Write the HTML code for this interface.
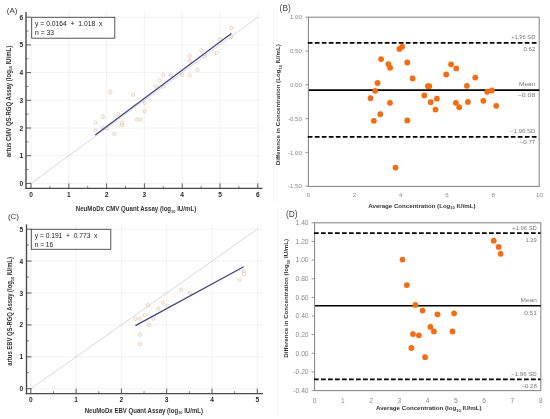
<!DOCTYPE html><html><head><meta charset="utf-8"><title>Figure</title>
<style>html,body{margin:0;padding:0;background:#fff;}svg{display:block;}</style></head><body>
<svg width="550" height="419" viewBox="0 0 550 419">
<rect x="0" y="0" width="550" height="419" fill="#fff"/>
<line x1="273.50" y1="8.00" x2="273.50" y2="204.00" stroke="#f3f3f3" stroke-width="0.8"/>
<line x1="277.50" y1="209.00" x2="277.50" y2="416.00" stroke="#f5f5f5" stroke-width="0.8"/>
<line x1="31.00" y1="12.00" x2="31.00" y2="188.40" stroke="#ededed" stroke-width="0.8"/>
<line x1="26.00" y1="183.40" x2="262.50" y2="183.40" stroke="#ededed" stroke-width="0.8"/>
<line x1="68.80" y1="12.00" x2="68.80" y2="188.40" stroke="#ededed" stroke-width="0.8"/>
<line x1="26.00" y1="155.70" x2="262.50" y2="155.70" stroke="#ededed" stroke-width="0.8"/>
<line x1="106.60" y1="12.00" x2="106.60" y2="188.40" stroke="#ededed" stroke-width="0.8"/>
<line x1="26.00" y1="128.00" x2="262.50" y2="128.00" stroke="#ededed" stroke-width="0.8"/>
<line x1="144.40" y1="12.00" x2="144.40" y2="188.40" stroke="#ededed" stroke-width="0.8"/>
<line x1="26.00" y1="100.30" x2="262.50" y2="100.30" stroke="#ededed" stroke-width="0.8"/>
<line x1="182.20" y1="12.00" x2="182.20" y2="188.40" stroke="#ededed" stroke-width="0.8"/>
<line x1="26.00" y1="72.60" x2="262.50" y2="72.60" stroke="#ededed" stroke-width="0.8"/>
<line x1="220.00" y1="12.00" x2="220.00" y2="188.40" stroke="#ededed" stroke-width="0.8"/>
<line x1="26.00" y1="44.90" x2="262.50" y2="44.90" stroke="#ededed" stroke-width="0.8"/>
<line x1="257.80" y1="12.00" x2="257.80" y2="188.40" stroke="#ededed" stroke-width="0.8"/>
<line x1="26.00" y1="17.20" x2="262.50" y2="17.20" stroke="#ededed" stroke-width="0.8"/>
<line x1="31.00" y1="183.40" x2="257.80" y2="17.20" stroke="#cdcdcd" stroke-width="0.8"/>
<circle cx="110.4" cy="92.0" r="1.6" fill="none" stroke="#e5c4a2" stroke-width="0.8"/>
<circle cx="133.1" cy="94.7" r="1.6" fill="none" stroke="#e5c4a2" stroke-width="0.8"/>
<circle cx="144.6" cy="103.0" r="1.6" fill="none" stroke="#e5c4a2" stroke-width="0.8"/>
<circle cx="144.6" cy="111.2" r="1.6" fill="none" stroke="#e5c4a2" stroke-width="0.8"/>
<circle cx="103.0" cy="116.7" r="1.6" fill="none" stroke="#e5c4a2" stroke-width="0.8"/>
<circle cx="118.1" cy="114.2" r="1.6" fill="none" stroke="#e5c4a2" stroke-width="0.8"/>
<circle cx="95.4" cy="122.6" r="1.6" fill="none" stroke="#e5c4a2" stroke-width="0.8"/>
<circle cx="122.1" cy="122.6" r="1.6" fill="none" stroke="#e5c4a2" stroke-width="0.8"/>
<circle cx="122.1" cy="125.1" r="1.6" fill="none" stroke="#e5c4a2" stroke-width="0.8"/>
<circle cx="136.8" cy="119.7" r="1.6" fill="none" stroke="#e5c4a2" stroke-width="0.8"/>
<circle cx="140.6" cy="119.7" r="1.6" fill="none" stroke="#e5c4a2" stroke-width="0.8"/>
<circle cx="95.4" cy="130.4" r="1.6" fill="none" stroke="#e5c4a2" stroke-width="0.8"/>
<circle cx="102.5" cy="127.6" r="1.6" fill="none" stroke="#e5c4a2" stroke-width="0.8"/>
<circle cx="107.0" cy="128.4" r="1.6" fill="none" stroke="#e5c4a2" stroke-width="0.8"/>
<circle cx="114.2" cy="133.8" r="1.6" fill="none" stroke="#e5c4a2" stroke-width="0.8"/>
<circle cx="231.3" cy="28.0" r="1.6" fill="none" stroke="#e5c4a2" stroke-width="0.8"/>
<circle cx="231.3" cy="36.7" r="1.6" fill="none" stroke="#e5c4a2" stroke-width="0.8"/>
<circle cx="219.8" cy="39.2" r="1.6" fill="none" stroke="#e5c4a2" stroke-width="0.8"/>
<circle cx="216.5" cy="53.1" r="1.6" fill="none" stroke="#e5c4a2" stroke-width="0.8"/>
<circle cx="201.3" cy="50.4" r="1.6" fill="none" stroke="#e5c4a2" stroke-width="0.8"/>
<circle cx="205.1" cy="56.4" r="1.6" fill="none" stroke="#e5c4a2" stroke-width="0.8"/>
<circle cx="189.7" cy="55.9" r="1.6" fill="none" stroke="#e5c4a2" stroke-width="0.8"/>
<circle cx="189.7" cy="60.9" r="1.6" fill="none" stroke="#e5c4a2" stroke-width="0.8"/>
<circle cx="197.6" cy="69.8" r="1.6" fill="none" stroke="#e5c4a2" stroke-width="0.8"/>
<circle cx="189.7" cy="75.4" r="1.6" fill="none" stroke="#e5c4a2" stroke-width="0.8"/>
<circle cx="182.1" cy="75.1" r="1.6" fill="none" stroke="#e5c4a2" stroke-width="0.8"/>
<circle cx="170.9" cy="75.1" r="1.6" fill="none" stroke="#e5c4a2" stroke-width="0.8"/>
<circle cx="163.4" cy="75.1" r="1.6" fill="none" stroke="#e5c4a2" stroke-width="0.8"/>
<circle cx="159.5" cy="80.4" r="1.6" fill="none" stroke="#e5c4a2" stroke-width="0.8"/>
<circle cx="155.8" cy="86.5" r="1.6" fill="none" stroke="#e5c4a2" stroke-width="0.8"/>
<circle cx="163.4" cy="86.8" r="1.6" fill="none" stroke="#e5c4a2" stroke-width="0.8"/>
<line x1="95.26" y1="135.01" x2="231.34" y2="33.49" stroke="#413f90" stroke-width="1.25"/>
<line x1="26.00" y1="12.00" x2="26.00" y2="189.10" stroke="#4a4a4a" stroke-width="1.4"/>
<line x1="25.30" y1="188.40" x2="262.50" y2="188.40" stroke="#4a4a4a" stroke-width="1.4"/>
<line x1="26.00" y1="183.40" x2="31.00" y2="183.40" stroke="#4a4a4a" stroke-width="0.9"/>
<line x1="31.00" y1="188.40" x2="31.00" y2="183.40" stroke="#4a4a4a" stroke-width="0.9"/>
<line x1="26.00" y1="169.55" x2="28.50" y2="169.55" stroke="#4a4a4a" stroke-width="0.7"/>
<line x1="49.90" y1="188.40" x2="49.90" y2="185.90" stroke="#4a4a4a" stroke-width="0.7"/>
<text x="21.40" y="185.90" font-size="6.6" fill="#2a2a2a" text-anchor="middle" font-weight="bold" font-family="'Liberation Sans', Arial, sans-serif">0</text>
<text x="31.00" y="196.90" font-size="6.6" fill="#2a2a2a" text-anchor="middle" font-weight="bold" font-family="'Liberation Sans', Arial, sans-serif">0</text>
<line x1="26.00" y1="155.70" x2="31.00" y2="155.70" stroke="#4a4a4a" stroke-width="0.9"/>
<line x1="68.80" y1="188.40" x2="68.80" y2="183.40" stroke="#4a4a4a" stroke-width="0.9"/>
<line x1="26.00" y1="141.85" x2="28.50" y2="141.85" stroke="#4a4a4a" stroke-width="0.7"/>
<line x1="87.70" y1="188.40" x2="87.70" y2="185.90" stroke="#4a4a4a" stroke-width="0.7"/>
<text x="21.40" y="158.20" font-size="6.6" fill="#2a2a2a" text-anchor="middle" font-weight="bold" font-family="'Liberation Sans', Arial, sans-serif">1</text>
<text x="68.80" y="196.90" font-size="6.6" fill="#2a2a2a" text-anchor="middle" font-weight="bold" font-family="'Liberation Sans', Arial, sans-serif">1</text>
<line x1="26.00" y1="128.00" x2="31.00" y2="128.00" stroke="#4a4a4a" stroke-width="0.9"/>
<line x1="106.60" y1="188.40" x2="106.60" y2="183.40" stroke="#4a4a4a" stroke-width="0.9"/>
<line x1="26.00" y1="114.15" x2="28.50" y2="114.15" stroke="#4a4a4a" stroke-width="0.7"/>
<line x1="125.50" y1="188.40" x2="125.50" y2="185.90" stroke="#4a4a4a" stroke-width="0.7"/>
<text x="21.40" y="130.50" font-size="6.6" fill="#2a2a2a" text-anchor="middle" font-weight="bold" font-family="'Liberation Sans', Arial, sans-serif">2</text>
<text x="106.60" y="196.90" font-size="6.6" fill="#2a2a2a" text-anchor="middle" font-weight="bold" font-family="'Liberation Sans', Arial, sans-serif">2</text>
<line x1="26.00" y1="100.30" x2="31.00" y2="100.30" stroke="#4a4a4a" stroke-width="0.9"/>
<line x1="144.40" y1="188.40" x2="144.40" y2="183.40" stroke="#4a4a4a" stroke-width="0.9"/>
<line x1="26.00" y1="86.45" x2="28.50" y2="86.45" stroke="#4a4a4a" stroke-width="0.7"/>
<line x1="163.30" y1="188.40" x2="163.30" y2="185.90" stroke="#4a4a4a" stroke-width="0.7"/>
<text x="21.40" y="102.80" font-size="6.6" fill="#2a2a2a" text-anchor="middle" font-weight="bold" font-family="'Liberation Sans', Arial, sans-serif">3</text>
<text x="144.40" y="196.90" font-size="6.6" fill="#2a2a2a" text-anchor="middle" font-weight="bold" font-family="'Liberation Sans', Arial, sans-serif">3</text>
<line x1="26.00" y1="72.60" x2="31.00" y2="72.60" stroke="#4a4a4a" stroke-width="0.9"/>
<line x1="182.20" y1="188.40" x2="182.20" y2="183.40" stroke="#4a4a4a" stroke-width="0.9"/>
<line x1="26.00" y1="58.75" x2="28.50" y2="58.75" stroke="#4a4a4a" stroke-width="0.7"/>
<line x1="201.10" y1="188.40" x2="201.10" y2="185.90" stroke="#4a4a4a" stroke-width="0.7"/>
<text x="21.40" y="75.10" font-size="6.6" fill="#2a2a2a" text-anchor="middle" font-weight="bold" font-family="'Liberation Sans', Arial, sans-serif">4</text>
<text x="182.20" y="196.90" font-size="6.6" fill="#2a2a2a" text-anchor="middle" font-weight="bold" font-family="'Liberation Sans', Arial, sans-serif">4</text>
<line x1="26.00" y1="44.90" x2="31.00" y2="44.90" stroke="#4a4a4a" stroke-width="0.9"/>
<line x1="220.00" y1="188.40" x2="220.00" y2="183.40" stroke="#4a4a4a" stroke-width="0.9"/>
<line x1="26.00" y1="31.05" x2="28.50" y2="31.05" stroke="#4a4a4a" stroke-width="0.7"/>
<line x1="238.90" y1="188.40" x2="238.90" y2="185.90" stroke="#4a4a4a" stroke-width="0.7"/>
<text x="21.40" y="47.40" font-size="6.6" fill="#2a2a2a" text-anchor="middle" font-weight="bold" font-family="'Liberation Sans', Arial, sans-serif">5</text>
<text x="220.00" y="196.90" font-size="6.6" fill="#2a2a2a" text-anchor="middle" font-weight="bold" font-family="'Liberation Sans', Arial, sans-serif">5</text>
<line x1="26.00" y1="17.20" x2="31.00" y2="17.20" stroke="#4a4a4a" stroke-width="0.9"/>
<line x1="257.80" y1="188.40" x2="257.80" y2="183.40" stroke="#4a4a4a" stroke-width="0.9"/>
<text x="21.40" y="19.70" font-size="6.6" fill="#2a2a2a" text-anchor="middle" font-weight="bold" font-family="'Liberation Sans', Arial, sans-serif">6</text>
<text x="257.80" y="196.90" font-size="6.6" fill="#2a2a2a" text-anchor="middle" font-weight="bold" font-family="'Liberation Sans', Arial, sans-serif">6</text>
<rect x="31.7" y="17.3" width="83.1" height="20.9" fill="#fff" stroke="#444" stroke-width="0.9"/>
<text x="35.10" y="25.90" font-size="6.4" fill="#222" text-anchor="start" font-weight="normal" font-family="'Liberation Sans', Arial, sans-serif" textLength="67.3" lengthAdjust="spacingAndGlyphs">y = 0.0164&#160;&#160;+&#160;&#160;1.018&#160;&#160;x</text>
<text x="35.10" y="34.50" font-size="6.4" fill="#222" text-anchor="start" font-weight="normal" font-family="'Liberation Sans', Arial, sans-serif" textLength="19.0" lengthAdjust="spacingAndGlyphs">n = 33</text>
<text x="6.80" y="13.10" font-size="8" fill="#333" text-anchor="start" font-weight="normal" font-family="'Liberation Sans', Arial, sans-serif">(A)</text>
<text x="10.90" y="101.50" font-size="6.6" fill="#333" text-anchor="middle" font-weight="bold" font-family="'Liberation Sans', Arial, sans-serif" textLength="111.5" lengthAdjust="spacingAndGlyphs" transform="rotate(-90 10.90 101.50)">artus CMV QS-RGQ Assay (log<tspan font-size="4.2" dy="1.6">10</tspan><tspan dy="-1.6"> </tspan>IU/mL)</text>
<text x="136.00" y="211.30" font-size="6.6" fill="#333" text-anchor="middle" font-weight="bold" font-family="'Liberation Sans', Arial, sans-serif" textLength="120.4" lengthAdjust="spacingAndGlyphs">NeuMoDx CMV Quant Assay (log<tspan font-size="4.2" dy="1.6">10</tspan><tspan dy="-1.6"> </tspan>IU/mL)</text>
<line x1="30.80" y1="224.40" x2="30.80" y2="393.60" stroke="#ededed" stroke-width="0.8"/>
<line x1="26.50" y1="388.70" x2="263.00" y2="388.70" stroke="#ededed" stroke-width="0.8"/>
<line x1="76.10" y1="224.40" x2="76.10" y2="393.60" stroke="#ededed" stroke-width="0.8"/>
<line x1="26.50" y1="356.80" x2="263.00" y2="356.80" stroke="#ededed" stroke-width="0.8"/>
<line x1="121.40" y1="224.40" x2="121.40" y2="393.60" stroke="#ededed" stroke-width="0.8"/>
<line x1="26.50" y1="324.90" x2="263.00" y2="324.90" stroke="#ededed" stroke-width="0.8"/>
<line x1="166.70" y1="224.40" x2="166.70" y2="393.60" stroke="#ededed" stroke-width="0.8"/>
<line x1="26.50" y1="293.00" x2="263.00" y2="293.00" stroke="#ededed" stroke-width="0.8"/>
<line x1="212.00" y1="224.40" x2="212.00" y2="393.60" stroke="#ededed" stroke-width="0.8"/>
<line x1="26.50" y1="261.10" x2="263.00" y2="261.10" stroke="#ededed" stroke-width="0.8"/>
<line x1="257.30" y1="224.40" x2="257.30" y2="393.60" stroke="#ededed" stroke-width="0.8"/>
<line x1="26.50" y1="229.20" x2="263.00" y2="229.20" stroke="#ededed" stroke-width="0.8"/>
<line x1="30.80" y1="388.70" x2="257.30" y2="229.20" stroke="#cdcdcd" stroke-width="0.8"/>
<circle cx="181.0" cy="289.7" r="1.6" fill="none" stroke="#e5c4a2" stroke-width="0.8"/>
<circle cx="189.8" cy="293.0" r="1.6" fill="none" stroke="#e5c4a2" stroke-width="0.8"/>
<circle cx="148.1" cy="305.1" r="1.6" fill="none" stroke="#e5c4a2" stroke-width="0.8"/>
<circle cx="162.9" cy="302.5" r="1.6" fill="none" stroke="#e5c4a2" stroke-width="0.8"/>
<circle cx="167.3" cy="305.6" r="1.6" fill="none" stroke="#e5c4a2" stroke-width="0.8"/>
<circle cx="158.1" cy="308.7" r="1.6" fill="none" stroke="#e5c4a2" stroke-width="0.8"/>
<circle cx="144.6" cy="315.1" r="1.6" fill="none" stroke="#e5c4a2" stroke-width="0.8"/>
<circle cx="140.0" cy="318.7" r="1.6" fill="none" stroke="#e5c4a2" stroke-width="0.8"/>
<circle cx="135.5" cy="318.7" r="1.6" fill="none" stroke="#e5c4a2" stroke-width="0.8"/>
<circle cx="153.4" cy="318.7" r="1.6" fill="none" stroke="#e5c4a2" stroke-width="0.8"/>
<circle cx="148.9" cy="324.8" r="1.6" fill="none" stroke="#e5c4a2" stroke-width="0.8"/>
<circle cx="140.0" cy="334.6" r="1.6" fill="none" stroke="#e5c4a2" stroke-width="0.8"/>
<circle cx="140.0" cy="344.0" r="1.6" fill="none" stroke="#e5c4a2" stroke-width="0.8"/>
<circle cx="243.9" cy="270.8" r="1.6" fill="none" stroke="#e5c4a2" stroke-width="0.8"/>
<circle cx="243.9" cy="274.0" r="1.6" fill="none" stroke="#e5c4a2" stroke-width="0.8"/>
<circle cx="239.6" cy="280.0" r="1.6" fill="none" stroke="#e5c4a2" stroke-width="0.8"/>
<line x1="135.44" y1="325.65" x2="243.71" y2="266.71" stroke="#413f90" stroke-width="1.25"/>
<line x1="26.50" y1="224.40" x2="26.50" y2="394.30" stroke="#4a4a4a" stroke-width="1.4"/>
<line x1="25.80" y1="393.60" x2="263.00" y2="393.60" stroke="#4a4a4a" stroke-width="1.4"/>
<line x1="26.50" y1="388.70" x2="31.50" y2="388.70" stroke="#4a4a4a" stroke-width="0.9"/>
<line x1="30.80" y1="393.60" x2="30.80" y2="388.60" stroke="#4a4a4a" stroke-width="0.9"/>
<line x1="26.50" y1="372.75" x2="29.00" y2="372.75" stroke="#4a4a4a" stroke-width="0.7"/>
<line x1="53.45" y1="393.60" x2="53.45" y2="391.10" stroke="#4a4a4a" stroke-width="0.7"/>
<text x="21.40" y="391.20" font-size="6.6" fill="#2a2a2a" text-anchor="middle" font-weight="bold" font-family="'Liberation Sans', Arial, sans-serif">0</text>
<text x="30.80" y="402.20" font-size="6.6" fill="#2a2a2a" text-anchor="middle" font-weight="bold" font-family="'Liberation Sans', Arial, sans-serif">0</text>
<line x1="26.50" y1="356.80" x2="31.50" y2="356.80" stroke="#4a4a4a" stroke-width="0.9"/>
<line x1="76.10" y1="393.60" x2="76.10" y2="388.60" stroke="#4a4a4a" stroke-width="0.9"/>
<line x1="26.50" y1="340.85" x2="29.00" y2="340.85" stroke="#4a4a4a" stroke-width="0.7"/>
<line x1="98.75" y1="393.60" x2="98.75" y2="391.10" stroke="#4a4a4a" stroke-width="0.7"/>
<text x="21.40" y="359.30" font-size="6.6" fill="#2a2a2a" text-anchor="middle" font-weight="bold" font-family="'Liberation Sans', Arial, sans-serif">1</text>
<text x="76.10" y="402.20" font-size="6.6" fill="#2a2a2a" text-anchor="middle" font-weight="bold" font-family="'Liberation Sans', Arial, sans-serif">1</text>
<line x1="26.50" y1="324.90" x2="31.50" y2="324.90" stroke="#4a4a4a" stroke-width="0.9"/>
<line x1="121.40" y1="393.60" x2="121.40" y2="388.60" stroke="#4a4a4a" stroke-width="0.9"/>
<line x1="26.50" y1="308.95" x2="29.00" y2="308.95" stroke="#4a4a4a" stroke-width="0.7"/>
<line x1="144.05" y1="393.60" x2="144.05" y2="391.10" stroke="#4a4a4a" stroke-width="0.7"/>
<text x="21.40" y="327.40" font-size="6.6" fill="#2a2a2a" text-anchor="middle" font-weight="bold" font-family="'Liberation Sans', Arial, sans-serif">2</text>
<text x="121.40" y="402.20" font-size="6.6" fill="#2a2a2a" text-anchor="middle" font-weight="bold" font-family="'Liberation Sans', Arial, sans-serif">2</text>
<line x1="26.50" y1="293.00" x2="31.50" y2="293.00" stroke="#4a4a4a" stroke-width="0.9"/>
<line x1="166.70" y1="393.60" x2="166.70" y2="388.60" stroke="#4a4a4a" stroke-width="0.9"/>
<line x1="26.50" y1="277.05" x2="29.00" y2="277.05" stroke="#4a4a4a" stroke-width="0.7"/>
<line x1="189.35" y1="393.60" x2="189.35" y2="391.10" stroke="#4a4a4a" stroke-width="0.7"/>
<text x="21.40" y="295.50" font-size="6.6" fill="#2a2a2a" text-anchor="middle" font-weight="bold" font-family="'Liberation Sans', Arial, sans-serif">3</text>
<text x="166.70" y="402.20" font-size="6.6" fill="#2a2a2a" text-anchor="middle" font-weight="bold" font-family="'Liberation Sans', Arial, sans-serif">3</text>
<line x1="26.50" y1="261.10" x2="31.50" y2="261.10" stroke="#4a4a4a" stroke-width="0.9"/>
<line x1="212.00" y1="393.60" x2="212.00" y2="388.60" stroke="#4a4a4a" stroke-width="0.9"/>
<line x1="26.50" y1="245.15" x2="29.00" y2="245.15" stroke="#4a4a4a" stroke-width="0.7"/>
<line x1="234.65" y1="393.60" x2="234.65" y2="391.10" stroke="#4a4a4a" stroke-width="0.7"/>
<text x="21.40" y="263.60" font-size="6.6" fill="#2a2a2a" text-anchor="middle" font-weight="bold" font-family="'Liberation Sans', Arial, sans-serif">4</text>
<text x="212.00" y="402.20" font-size="6.6" fill="#2a2a2a" text-anchor="middle" font-weight="bold" font-family="'Liberation Sans', Arial, sans-serif">4</text>
<line x1="26.50" y1="229.20" x2="31.50" y2="229.20" stroke="#4a4a4a" stroke-width="0.9"/>
<line x1="257.30" y1="393.60" x2="257.30" y2="388.60" stroke="#4a4a4a" stroke-width="0.9"/>
<text x="21.40" y="231.70" font-size="6.6" fill="#2a2a2a" text-anchor="middle" font-weight="bold" font-family="'Liberation Sans', Arial, sans-serif">5</text>
<text x="257.30" y="402.20" font-size="6.6" fill="#2a2a2a" text-anchor="middle" font-weight="bold" font-family="'Liberation Sans', Arial, sans-serif">5</text>
<rect x="31.3" y="229.3" width="79.5" height="20.0" fill="#fff" stroke="#444" stroke-width="0.9"/>
<text x="34.70" y="237.90" font-size="6.4" fill="#222" text-anchor="start" font-weight="normal" font-family="'Liberation Sans', Arial, sans-serif" textLength="62.7" lengthAdjust="spacingAndGlyphs">y = 0.191&#160;&#160;+&#160;&#160;0.773&#160;&#160;x</text>
<text x="34.70" y="246.50" font-size="6.4" fill="#222" text-anchor="start" font-weight="normal" font-family="'Liberation Sans', Arial, sans-serif" textLength="18.5" lengthAdjust="spacingAndGlyphs">n = 16</text>
<text x="7.90" y="218.50" font-size="8" fill="#333" text-anchor="start" font-weight="normal" font-family="'Liberation Sans', Arial, sans-serif">(C)</text>
<text x="12.20" y="311.40" font-size="6.6" fill="#333" text-anchor="middle" font-weight="bold" font-family="'Liberation Sans', Arial, sans-serif" textLength="108.6" lengthAdjust="spacingAndGlyphs" transform="rotate(-90 12.20 311.40)">artus EBV QS-RGQ Assay (log<tspan font-size="4.2" dy="1.6">10</tspan><tspan dy="-1.6"> </tspan>IU/mL)</text>
<text x="143.90" y="412.60" font-size="6.6" fill="#333" text-anchor="middle" font-weight="bold" font-family="'Liberation Sans', Arial, sans-serif" textLength="118.3" lengthAdjust="spacingAndGlyphs">NeuMoDx EBV Quant Assay (log<tspan font-size="4.2" dy="1.6">10</tspan><tspan dy="-1.6"> </tspan>IU/mL)</text>
<line x1="305.40" y1="17.20" x2="308.40" y2="17.20" stroke="#8c8c8c" stroke-width="0.9"/>
<text x="302.00" y="19.43" font-size="6.2" fill="#8a8a8a" text-anchor="end" font-weight="normal" font-family="'Liberation Sans', Arial, sans-serif">1.00</text>
<line x1="305.40" y1="51.00" x2="308.40" y2="51.00" stroke="#8c8c8c" stroke-width="0.9"/>
<text x="302.00" y="53.23" font-size="6.2" fill="#8a8a8a" text-anchor="end" font-weight="normal" font-family="'Liberation Sans', Arial, sans-serif">0.50</text>
<line x1="305.40" y1="84.80" x2="308.40" y2="84.80" stroke="#8c8c8c" stroke-width="0.9"/>
<text x="302.00" y="87.03" font-size="6.2" fill="#8a8a8a" text-anchor="end" font-weight="normal" font-family="'Liberation Sans', Arial, sans-serif">0.00</text>
<line x1="305.40" y1="118.60" x2="308.40" y2="118.60" stroke="#8c8c8c" stroke-width="0.9"/>
<text x="302.00" y="120.83" font-size="6.2" fill="#8a8a8a" text-anchor="end" font-weight="normal" font-family="'Liberation Sans', Arial, sans-serif">-0.50</text>
<line x1="305.40" y1="152.40" x2="308.40" y2="152.40" stroke="#8c8c8c" stroke-width="0.9"/>
<text x="302.00" y="154.63" font-size="6.2" fill="#8a8a8a" text-anchor="end" font-weight="normal" font-family="'Liberation Sans', Arial, sans-serif">-1.00</text>
<line x1="305.40" y1="186.20" x2="308.40" y2="186.20" stroke="#8c8c8c" stroke-width="0.9"/>
<text x="302.00" y="188.43" font-size="6.2" fill="#8a8a8a" text-anchor="end" font-weight="normal" font-family="'Liberation Sans', Arial, sans-serif">-1.50</text>
<text x="308.40" y="197.20" font-size="6.2" fill="#8a8a8a" text-anchor="middle" font-weight="normal" font-family="'Liberation Sans', Arial, sans-serif">0</text>
<text x="354.60" y="197.20" font-size="6.2" fill="#8a8a8a" text-anchor="middle" font-weight="normal" font-family="'Liberation Sans', Arial, sans-serif">2</text>
<text x="400.80" y="197.20" font-size="6.2" fill="#8a8a8a" text-anchor="middle" font-weight="normal" font-family="'Liberation Sans', Arial, sans-serif">4</text>
<text x="447.00" y="197.20" font-size="6.2" fill="#8a8a8a" text-anchor="middle" font-weight="normal" font-family="'Liberation Sans', Arial, sans-serif">6</text>
<text x="493.20" y="197.20" font-size="6.2" fill="#8a8a8a" text-anchor="middle" font-weight="normal" font-family="'Liberation Sans', Arial, sans-serif">8</text>
<text x="539.40" y="197.20" font-size="6.2" fill="#8a8a8a" text-anchor="middle" font-weight="normal" font-family="'Liberation Sans', Arial, sans-serif">10</text>
<rect x="308.40" y="17.20" width="230.80" height="169.20" fill="none" stroke="#8a8a8a" stroke-width="1.1"/>
<line x1="307.80" y1="42.89" x2="537.20" y2="42.89" stroke="#000" stroke-width="1.8" stroke-dasharray="4.7 2.3"/>
<line x1="307.80" y1="136.85" x2="537.20" y2="136.85" stroke="#000" stroke-width="1.8" stroke-dasharray="4.7 2.3"/>
<line x1="308.90" y1="90.21" x2="539.20" y2="90.21" stroke="#000" stroke-width="1.7"/>
<circle cx="399.4" cy="48.9" r="2.9" fill="#f76b0c"/>
<circle cx="402.2" cy="46.7" r="2.9" fill="#f76b0c"/>
<circle cx="381.1" cy="59.1" r="2.9" fill="#f76b0c"/>
<circle cx="388.4" cy="64.1" r="2.9" fill="#f76b0c"/>
<circle cx="390.1" cy="67.7" r="2.9" fill="#f76b0c"/>
<circle cx="407.3" cy="62.5" r="2.9" fill="#f76b0c"/>
<circle cx="412.6" cy="78.4" r="2.9" fill="#f76b0c"/>
<circle cx="377.6" cy="83.0" r="2.9" fill="#f76b0c"/>
<circle cx="375.2" cy="90.8" r="2.9" fill="#f76b0c"/>
<circle cx="370.5" cy="98.2" r="2.9" fill="#f76b0c"/>
<circle cx="390.0" cy="102.8" r="2.9" fill="#f76b0c"/>
<circle cx="380.3" cy="114.2" r="2.9" fill="#f76b0c"/>
<circle cx="373.9" cy="120.8" r="2.9" fill="#f76b0c"/>
<circle cx="407.3" cy="120.4" r="2.9" fill="#f76b0c"/>
<circle cx="451.1" cy="64.3" r="2.9" fill="#f76b0c"/>
<circle cx="456.3" cy="68.4" r="2.9" fill="#f76b0c"/>
<circle cx="446.2" cy="74.4" r="2.9" fill="#f76b0c"/>
<circle cx="475.3" cy="77.6" r="2.9" fill="#f76b0c"/>
<circle cx="466.9" cy="85.8" r="2.9" fill="#f76b0c"/>
<circle cx="427.9" cy="86.2" r="2.9" fill="#f76b0c"/>
<circle cx="429.3" cy="86.2" r="2.9" fill="#f76b0c"/>
<circle cx="424.3" cy="95.4" r="2.9" fill="#f76b0c"/>
<circle cx="436.9" cy="98.7" r="2.9" fill="#f76b0c"/>
<circle cx="430.7" cy="102.2" r="2.9" fill="#f76b0c"/>
<circle cx="435.5" cy="109.6" r="2.9" fill="#f76b0c"/>
<circle cx="455.9" cy="102.8" r="2.9" fill="#f76b0c"/>
<circle cx="459.2" cy="107.2" r="2.9" fill="#f76b0c"/>
<circle cx="467.9" cy="101.9" r="2.9" fill="#f76b0c"/>
<circle cx="487.2" cy="91.8" r="2.9" fill="#f76b0c"/>
<circle cx="491.9" cy="90.4" r="2.9" fill="#f76b0c"/>
<circle cx="483.4" cy="100.8" r="2.9" fill="#f76b0c"/>
<circle cx="496.2" cy="105.8" r="2.9" fill="#f76b0c"/>
<circle cx="395.5" cy="167.6" r="2.9" fill="#f76b0c"/>
<text x="535.30" y="39.40" font-size="6.2" fill="#777" text-anchor="end" font-weight="normal" font-family="'Liberation Sans', Arial, sans-serif" textLength="24.1" lengthAdjust="spacingAndGlyphs">+1.96 SD</text>
<text x="535.30" y="51.10" font-size="6.2" fill="#777" text-anchor="end" font-weight="normal" font-family="'Liberation Sans', Arial, sans-serif" textLength="11.8" lengthAdjust="spacingAndGlyphs">0.62</text>
<text x="535.30" y="86.20" font-size="6.2" fill="#777" text-anchor="end" font-weight="normal" font-family="'Liberation Sans', Arial, sans-serif" textLength="16.2" lengthAdjust="spacingAndGlyphs">Mean</text>
<text x="535.30" y="97.40" font-size="6.2" fill="#777" text-anchor="end" font-weight="normal" font-family="'Liberation Sans', Arial, sans-serif" textLength="17.3" lengthAdjust="spacingAndGlyphs">&#8211;0.08</text>
<text x="535.30" y="132.70" font-size="6.2" fill="#777" text-anchor="end" font-weight="normal" font-family="'Liberation Sans', Arial, sans-serif" textLength="25.0" lengthAdjust="spacingAndGlyphs">&#8211;1.96 SD</text>
<text x="535.30" y="143.70" font-size="6.2" fill="#777" text-anchor="end" font-weight="normal" font-family="'Liberation Sans', Arial, sans-serif" textLength="15.5" lengthAdjust="spacingAndGlyphs">&#8211;0.77</text>
<text x="279.60" y="11.40" font-size="8.4" fill="#444" text-anchor="start" font-weight="normal" font-family="'Liberation Sans', Arial, sans-serif">(B)</text>
<text x="280.20" y="104.70" font-size="6.1" fill="#333" text-anchor="middle" font-weight="bold" font-family="'Liberation Sans', Arial, sans-serif" textLength="121.0" lengthAdjust="spacingAndGlyphs" transform="rotate(-90 280.20 104.70)">Difference in Concentration (Log<tspan font-size="4" dy="1.5">10</tspan><tspan dy="-1.5"> </tspan>IU/mL)</text>
<text x="368.30" y="207.90" font-size="6.1" fill="#333" text-anchor="start" font-weight="bold" font-family="'Liberation Sans', Arial, sans-serif" textLength="107.3" lengthAdjust="spacingAndGlyphs">Average Concentration (Log<tspan font-size="4" dy="1.5">10</tspan><tspan dy="-1.5"> </tspan>IU/mL)</text>
<line x1="311.60" y1="222.80" x2="314.60" y2="222.80" stroke="#8c8c8c" stroke-width="0.9"/>
<text x="308.60" y="225.21" font-size="6.7" fill="#8a8a8a" text-anchor="end" font-weight="normal" font-family="'Liberation Sans', Arial, sans-serif">1.40</text>
<line x1="311.60" y1="241.44" x2="314.60" y2="241.44" stroke="#8c8c8c" stroke-width="0.9"/>
<text x="308.60" y="243.85" font-size="6.7" fill="#8a8a8a" text-anchor="end" font-weight="normal" font-family="'Liberation Sans', Arial, sans-serif">1.20</text>
<line x1="311.60" y1="260.08" x2="314.60" y2="260.08" stroke="#8c8c8c" stroke-width="0.9"/>
<text x="308.60" y="262.49" font-size="6.7" fill="#8a8a8a" text-anchor="end" font-weight="normal" font-family="'Liberation Sans', Arial, sans-serif">1.00</text>
<line x1="311.60" y1="278.72" x2="314.60" y2="278.72" stroke="#8c8c8c" stroke-width="0.9"/>
<text x="308.60" y="281.13" font-size="6.7" fill="#8a8a8a" text-anchor="end" font-weight="normal" font-family="'Liberation Sans', Arial, sans-serif">0.80</text>
<line x1="311.60" y1="297.36" x2="314.60" y2="297.36" stroke="#8c8c8c" stroke-width="0.9"/>
<text x="308.60" y="299.77" font-size="6.7" fill="#8a8a8a" text-anchor="end" font-weight="normal" font-family="'Liberation Sans', Arial, sans-serif">0.60</text>
<line x1="311.60" y1="316.00" x2="314.60" y2="316.00" stroke="#8c8c8c" stroke-width="0.9"/>
<text x="308.60" y="318.41" font-size="6.7" fill="#8a8a8a" text-anchor="end" font-weight="normal" font-family="'Liberation Sans', Arial, sans-serif">0.40</text>
<line x1="311.60" y1="334.64" x2="314.60" y2="334.64" stroke="#8c8c8c" stroke-width="0.9"/>
<text x="308.60" y="337.05" font-size="6.7" fill="#8a8a8a" text-anchor="end" font-weight="normal" font-family="'Liberation Sans', Arial, sans-serif">0.20</text>
<line x1="311.60" y1="353.28" x2="314.60" y2="353.28" stroke="#8c8c8c" stroke-width="0.9"/>
<text x="308.60" y="355.69" font-size="6.7" fill="#8a8a8a" text-anchor="end" font-weight="normal" font-family="'Liberation Sans', Arial, sans-serif">0.00</text>
<line x1="311.60" y1="371.92" x2="314.60" y2="371.92" stroke="#8c8c8c" stroke-width="0.9"/>
<text x="308.60" y="374.33" font-size="6.7" fill="#8a8a8a" text-anchor="end" font-weight="normal" font-family="'Liberation Sans', Arial, sans-serif">-0.20</text>
<line x1="311.60" y1="390.56" x2="314.60" y2="390.56" stroke="#8c8c8c" stroke-width="0.9"/>
<text x="308.60" y="392.97" font-size="6.7" fill="#8a8a8a" text-anchor="end" font-weight="normal" font-family="'Liberation Sans', Arial, sans-serif">-0.40</text>
<text x="314.60" y="402.60" font-size="6.7" fill="#8a8a8a" text-anchor="middle" font-weight="normal" font-family="'Liberation Sans', Arial, sans-serif">0</text>
<text x="342.87" y="402.60" font-size="6.7" fill="#8a8a8a" text-anchor="middle" font-weight="normal" font-family="'Liberation Sans', Arial, sans-serif">1</text>
<text x="371.14" y="402.60" font-size="6.7" fill="#8a8a8a" text-anchor="middle" font-weight="normal" font-family="'Liberation Sans', Arial, sans-serif">2</text>
<text x="399.41" y="402.60" font-size="6.7" fill="#8a8a8a" text-anchor="middle" font-weight="normal" font-family="'Liberation Sans', Arial, sans-serif">3</text>
<text x="427.68" y="402.60" font-size="6.7" fill="#8a8a8a" text-anchor="middle" font-weight="normal" font-family="'Liberation Sans', Arial, sans-serif">4</text>
<text x="455.95" y="402.60" font-size="6.7" fill="#8a8a8a" text-anchor="middle" font-weight="normal" font-family="'Liberation Sans', Arial, sans-serif">5</text>
<text x="484.22" y="402.60" font-size="6.7" fill="#8a8a8a" text-anchor="middle" font-weight="normal" font-family="'Liberation Sans', Arial, sans-serif">6</text>
<text x="512.49" y="402.60" font-size="6.7" fill="#8a8a8a" text-anchor="middle" font-weight="normal" font-family="'Liberation Sans', Arial, sans-serif">7</text>
<text x="540.76" y="402.60" font-size="6.7" fill="#8a8a8a" text-anchor="middle" font-weight="normal" font-family="'Liberation Sans', Arial, sans-serif">8</text>
<rect x="314.60" y="222.80" width="226.20" height="167.80" fill="none" stroke="#8a8a8a" stroke-width="1.1"/>
<line x1="314.00" y1="233.05" x2="540.60" y2="233.05" stroke="#000" stroke-width="1.8" stroke-dasharray="4.7 2.3"/>
<line x1="314.00" y1="379.38" x2="540.60" y2="379.38" stroke="#000" stroke-width="1.8" stroke-dasharray="4.7 2.3"/>
<line x1="315.10" y1="305.75" x2="540.80" y2="305.75" stroke="#000" stroke-width="1.7"/>
<circle cx="402.5" cy="259.6" r="2.9" fill="#f76b0c"/>
<circle cx="406.8" cy="285.1" r="2.9" fill="#f76b0c"/>
<circle cx="415.4" cy="304.9" r="2.9" fill="#f76b0c"/>
<circle cx="422.6" cy="310.6" r="2.9" fill="#f76b0c"/>
<circle cx="437.5" cy="314.3" r="2.9" fill="#f76b0c"/>
<circle cx="454.1" cy="313.3" r="2.9" fill="#f76b0c"/>
<circle cx="430.4" cy="326.9" r="2.9" fill="#f76b0c"/>
<circle cx="433.9" cy="331.4" r="2.9" fill="#f76b0c"/>
<circle cx="452.5" cy="331.4" r="2.9" fill="#f76b0c"/>
<circle cx="413.0" cy="334.1" r="2.9" fill="#f76b0c"/>
<circle cx="418.9" cy="335.3" r="2.9" fill="#f76b0c"/>
<circle cx="411.4" cy="347.9" r="2.9" fill="#f76b0c"/>
<circle cx="425.1" cy="357.2" r="2.9" fill="#f76b0c"/>
<circle cx="493.7" cy="240.7" r="2.9" fill="#f76b0c"/>
<circle cx="498.7" cy="246.9" r="2.9" fill="#f76b0c"/>
<circle cx="500.7" cy="253.8" r="2.9" fill="#f76b0c"/>
<text x="536.80" y="230.10" font-size="6.2" fill="#777" text-anchor="end" font-weight="normal" font-family="'Liberation Sans', Arial, sans-serif" textLength="24.5" lengthAdjust="spacingAndGlyphs">+1.96 SD</text>
<text x="536.80" y="242.00" font-size="6.2" fill="#777" text-anchor="end" font-weight="normal" font-family="'Liberation Sans', Arial, sans-serif" textLength="11.3" lengthAdjust="spacingAndGlyphs">1.29</text>
<text x="536.80" y="301.90" font-size="6.2" fill="#777" text-anchor="end" font-weight="normal" font-family="'Liberation Sans', Arial, sans-serif" textLength="16.2" lengthAdjust="spacingAndGlyphs">Mean</text>
<text x="536.80" y="314.80" font-size="6.2" fill="#777" text-anchor="end" font-weight="normal" font-family="'Liberation Sans', Arial, sans-serif" textLength="12.6" lengthAdjust="spacingAndGlyphs">0.51</text>
<text x="536.80" y="375.60" font-size="6.2" fill="#777" text-anchor="end" font-weight="normal" font-family="'Liberation Sans', Arial, sans-serif" textLength="25.5" lengthAdjust="spacingAndGlyphs">&#8211;1.96 SD</text>
<text x="536.80" y="388.30" font-size="6.2" fill="#777" text-anchor="end" font-weight="normal" font-family="'Liberation Sans', Arial, sans-serif" textLength="15.3" lengthAdjust="spacingAndGlyphs">&#8211;0.28</text>
<text x="286.00" y="216.90" font-size="8.4" fill="#444" text-anchor="start" font-weight="normal" font-family="'Liberation Sans', Arial, sans-serif">(D)</text>
<text x="288.40" y="298.30" font-size="6.1" fill="#333" text-anchor="middle" font-weight="bold" font-family="'Liberation Sans', Arial, sans-serif" textLength="118.9" lengthAdjust="spacingAndGlyphs" transform="rotate(-90 288.40 298.30)">Difference in Concentration (log<tspan font-size="4" dy="1.5">10</tspan><tspan dy="-1.5"> </tspan>IU/mL)</text>
<text x="376.00" y="410.00" font-size="6.1" fill="#333" text-anchor="start" font-weight="bold" font-family="'Liberation Sans', Arial, sans-serif" textLength="105.6" lengthAdjust="spacingAndGlyphs">Average Concentration (log<tspan font-size="4" dy="1.5">10</tspan><tspan dy="-1.5"> </tspan>IU/mL)</text>
</svg></body></html>
